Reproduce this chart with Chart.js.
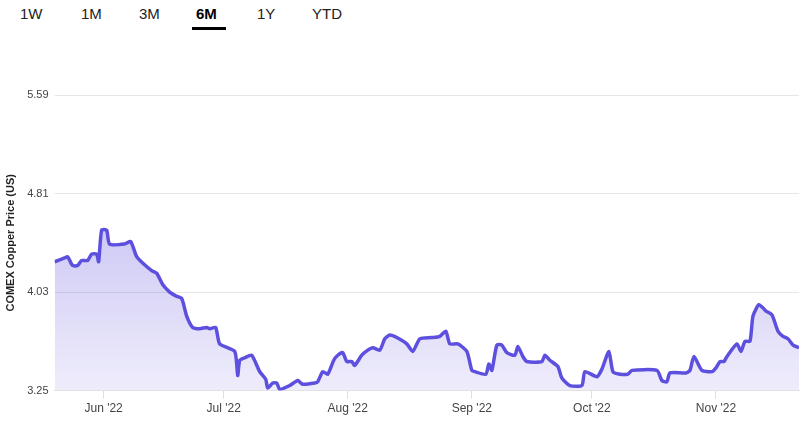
<!DOCTYPE html>
<html><head><meta charset="utf-8">
<script src="https://cdn.jsdelivr.net/npm/chart.js@4"></script>
<style>
body{margin:0;background:#fff;font-family:Arial,"Liberation Sans",sans-serif;}
#tabs{position:absolute;top:0;left:0;height:40px;width:809px;}
#tabs span{position:absolute;top:5px;font-size:15px;color:#222;}
#tabs span.on{font-weight:bold;color:#000;}
#ul{position:absolute;left:192px;top:27px;width:34px;height:3px;background:#000;}
#wrap{position:absolute;left:0;top:40px;width:809px;height:383px;}
</style></head><body>
<div id="tabs"><span style="left:20px">1W</span><span style="left:81px">1M</span><span style="left:139px">3M</span><span class="on" style="left:196px">6M</span><span style="left:257px">1Y</span><span style="left:312px">YTD</span><div id="ul"></div></div>
<div id="wrap"><canvas id="c"></canvas></div>
<script>
const days=[-12.25,-9.75,-9,-7.75,-6.5,-5.5,-4,-3,-1.75,-1.25,-0.5,0.75,1.5,5.25,6.75,8.25,9.75,12,13.25,14.75,16.5,18,19.5,20.75,22.25,24,25.75,26.5,28,29,32.75,33.5,34,35.25,37,39,40.5,41,42.25,43.25,44,46.5,48.5,49.75,52.75,53.5,54.75,56,57.5,58.5,59.75,60.75,62,62.75,64.5,66,67.25,69,70.25,71.5,73.25,75.75,77.25,79,82,84,85.5,86.5,88.5,90.75,92,92.75,95.5,96.25,97,98.25,99.5,100.75,102.75,103.5,104.75,105.75,109.5,110.25,111.5,113.5,114.5,116.5,119.5,120.25,123.25,124.5,126.25,127.25,129,131,132,138.25,139.5,140.75,141.5,145.5,146.5,147.5,149.5,152,153,154,155,155.75,158.25,159.25,160.25,161.5,162.25,163.75,165.5,167,168.5,169.75,171,172.25,173.75];
const prices=[4.27,4.30,4.31,4.24,4.24,4.28,4.28,4.33,4.33,4.27,4.52,4.52,4.41,4.41,4.43,4.31,4.26,4.20,4.18,4.09,4.03,4.00,3.98,3.84,3.75,3.74,3.75,3.74,3.75,3.62,3.56,3.37,3.49,3.51,3.53,3.40,3.34,3.27,3.31,3.31,3.26,3.29,3.33,3.30,3.31,3.32,3.40,3.38,3.49,3.53,3.55,3.48,3.48,3.45,3.53,3.57,3.59,3.57,3.66,3.69,3.67,3.62,3.56,3.66,3.67,3.68,3.72,3.62,3.62,3.56,3.41,3.40,3.38,3.46,3.41,3.61,3.61,3.55,3.53,3.60,3.52,3.48,3.48,3.53,3.49,3.44,3.35,3.29,3.29,3.40,3.36,3.42,3.56,3.40,3.38,3.38,3.41,3.41,3.33,3.32,3.39,3.39,3.41,3.52,3.41,3.40,3.43,3.48,3.48,3.52,3.62,3.56,3.64,3.64,3.84,3.93,3.88,3.85,3.72,3.68,3.66,3.61,3.59];
const monthTicks=[0,30,61,92,122,153];
const monthLabels=["Jun '22","Jul '22","Aug '22","Sep '22","Oct '22","Nov '22"];
const yTicks=[3.25,4.03,4.81,5.59];
const pts=days.map((d,i)=>({x:d,y:prices[i]}));
new Chart(document.getElementById('c'),{type:'line',
data:{datasets:[{data:pts,borderColor:'#5d50de',borderWidth:3.5,pointRadius:0,tension:0.2,fill:true,
backgroundColor:(ctx)=>{const a=ctx.chart.chartArea;if(!a)return 'rgba(130,115,225,0.3)';const g=ctx.chart.ctx.createLinearGradient(0,a.top,0,a.bottom);g.addColorStop(0,'rgba(120,105,225,0.55)');g.addColorStop(1,'rgba(120,105,225,0.12)');return g;}}]},
options:{responsive:true,maintainAspectRatio:false,animation:false,
layout:{padding:{top:55,right:10,left:0,bottom:4}},
plugins:{legend:{display:false},tooltip:{enabled:false}},
scales:{
x:{type:'linear',min:-12.25,max:173.75,afterBuildTicks:s=>{s.ticks=monthTicks.map(v=>({value:v}));},
ticks:{callback:(v)=>monthLabels[monthTicks.indexOf(v)],color:'#444',font:{size:12,family:'Arial'},maxRotation:0,autoSkip:false},
grid:{drawOnChartArea:false,tickLength:8,color:'#ddd'},border:{color:'#e3e3e3'}},
y:{min:3.25,max:5.59,afterBuildTicks:s=>{s.ticks=yTicks.map(v=>({value:v}));},
ticks:{callback:v=>v.toFixed(2),color:'#444',font:{size:11,family:'Arial'},padding:6},
grid:{color:'#e6e6e6',drawTicks:false},border:{display:false},
title:{display:true,text:'COMEX Copper Price (US)',color:'#222',font:{size:11,weight:'bold',family:'Arial'}}}
}}});
</script></body></html>
